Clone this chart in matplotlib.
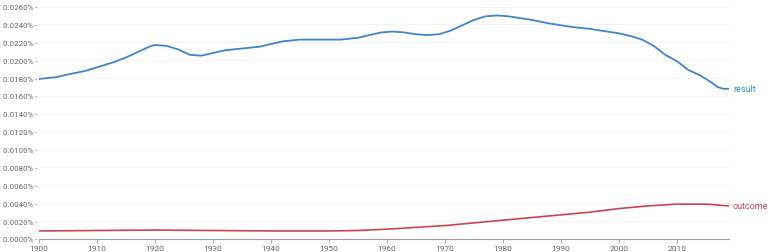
import matplotlib
matplotlib.use("Agg")
import matplotlib.pyplot as plt
from matplotlib.ticker import FuncFormatter

# values (percent of corpus)
result_years = [1900, 1903, 1905, 1908, 1910, 1913, 1915, 1917, 1919, 1920, 1922, 1924, 1926,
                1928, 1930, 1932, 1935, 1938, 1940, 1942, 1945, 1948, 1950, 1952, 1955, 1957,
                1959, 1961, 1963, 1965, 1967, 1969, 1971, 1973, 1975, 1977, 1979, 1981, 1983,
                1985, 1988, 1990, 1992, 1995, 1997, 2000, 2002, 2004, 2006, 2008, 2010, 2012,
                2014, 2016, 2017, 2018, 2019]
result_vals = [0.0179, 0.0181, 0.0184, 0.0188, 0.0192, 0.0198, 0.0203, 0.0209, 0.0215, 0.0217,
               0.0216, 0.0212, 0.0206, 0.0205, 0.0208, 0.0211, 0.0213, 0.0215, 0.0218, 0.0221,
               0.0223, 0.0223, 0.0223, 0.0223, 0.0225, 0.0228, 0.0231, 0.0232, 0.0231, 0.0229,
               0.0228, 0.0229, 0.0233, 0.0239, 0.0245, 0.0249, 0.0250, 0.0249, 0.0247, 0.0245,
               0.0241, 0.0239, 0.0237, 0.0235, 0.0233, 0.0230, 0.0227, 0.0223, 0.0216, 0.0206,
               0.0199, 0.0189, 0.0183, 0.0175, 0.0170, 0.0168, 0.0168]

outcome_years = [1900, 1910, 1920, 1930, 1940, 1950, 1955, 1960, 1965, 1970, 1975, 1980,
                 1985, 1990, 1995, 2000, 2005, 2010, 2013, 2015, 2017, 2019]
outcome_vals = [0.0009, 0.00095, 0.0010, 0.00095, 0.0009, 0.0009, 0.00095, 0.0011, 0.0013,
                0.0015, 0.0018, 0.0021, 0.0024, 0.0027, 0.0030, 0.0034, 0.0037, 0.0039,
                0.0039, 0.0039, 0.0038, 0.0037]

x_ticks = [1900, 1910, 1920, 1930, 1940, 1950, 1960, 1970, 1980, 1990, 2000, 2010]
y_ticks = [i * 0.002 for i in range(14)]

blue = "#3f84cd"
red = "#c9464f"

plt.rcParams["font.family"] = ["Roboto", "DejaVu Sans"]

fig = plt.figure(figsize=(7.68, 2.53), dpi=100)
ax = fig.add_axes([39 / 768, 1 - 240 / 253, 690 / 768, 232.5 / 253])

ax.plot(result_years, result_vals, color=blue, lw=1.3, clip_on=False, solid_capstyle="butt")
ax.plot(outcome_years, outcome_vals, color=red, lw=1.2, clip_on=False, solid_capstyle="butt")

ax.text(2019.7, result_vals[-1], "result", color=blue, fontsize=6.5, va="center", ha="left")
ax.text(2019.7, outcome_vals[-1], "outcome", color=red, fontsize=6.5, va="center", ha="left")

ax.set_xlim(1900, 2019)
ax.set_ylim(0, 0.026)
ax.set_xticks(x_ticks)
ax.set_yticks(y_ticks)
ax.yaxis.set_major_formatter(FuncFormatter(lambda v, p: f"{v:.4f}% -"))

for s in ["top", "right", "left"]:
    ax.spines[s].set_visible(False)
ax.spines["bottom"].set_color("#9e9e9e")
ax.spines["bottom"].set_linewidth(0.8)

ax.tick_params(axis="y", length=0, pad=1, labelsize=5.7, labelcolor="#666666")
ax.tick_params(axis="x", length=3, width=0.6, color="#9e9e9e", pad=1,
               labelsize=6, labelcolor="#666666")
ax.grid(axis="y", color="#f2f2f2", lw=0.6)
ax.set_axisbelow(True)

fig.savefig("out.png", dpi=100)
